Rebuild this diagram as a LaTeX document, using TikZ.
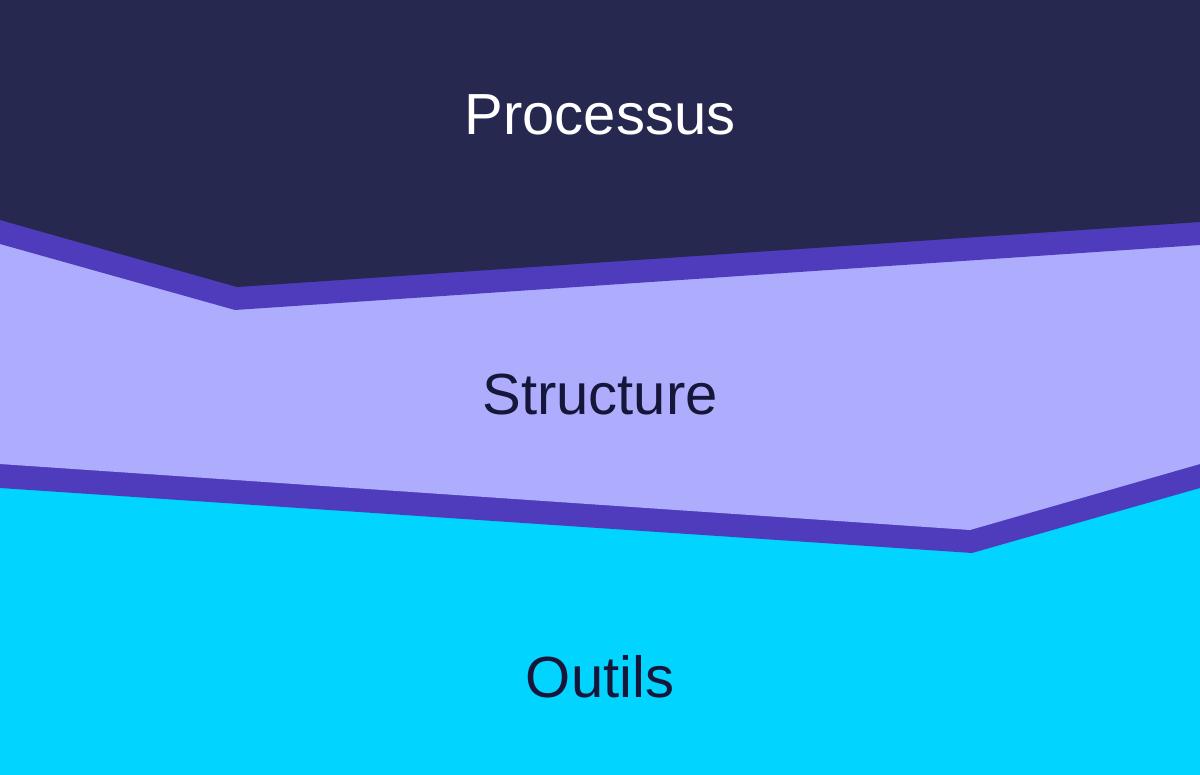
\documentclass[tikz,border=0pt]{standalone}
\usepackage{fontspec}
\setmainfont{Liberation Sans}
\definecolor{darkb}{HTML}{272850}
\definecolor{band}{HTML}{4F3CBC}
\definecolor{lav}{HTML}{AEADFD}
\definecolor{cyanb}{HTML}{00D4FF}
\definecolor{txt}{HTML}{15163A}
\begin{document}
\begin{tikzpicture}[x=1pt,y=-1pt,lbl/.style={font=\fontsize{58}{60}\selectfont}]
\useasboundingbox (0,0) rectangle (1200,775);
\fill[cyanb] (0,0) rectangle (1200,775);
\fill[band] (0,0) -- (1200,0) -- (1200,488) -- (972,553) -- (0,488) -- cycle;
\fill[lav] (0,0) -- (1200,0) -- (1200,464) -- (970,530) -- (0,464) -- cycle;
\fill[band] (0,0) -- (1200,0) -- (1200,245) -- (235,310) -- (0,244) -- cycle;
\fill[darkb] (0,0) -- (1200,0) -- (1200,222) -- (237,287) -- (0,220) -- cycle;
\node[lbl,text=white] (p) at (600,115) {Processus};
\node[lbl,text=txt] (s) at (600,395) {Structure};
\node[lbl,text=txt] (o) at (600,677) {Outils};
\end{tikzpicture}
\end{document}
